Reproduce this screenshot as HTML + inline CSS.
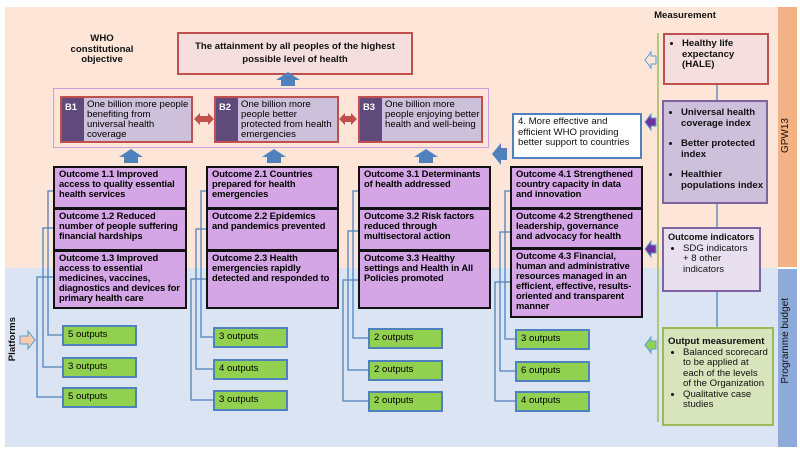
<!DOCTYPE html>
<html><head><style>
body{margin:0;width:800px;height:453px;background:#fff;position:relative;overflow:hidden;font-family:"Liberation Sans",sans-serif;}
div{position:absolute;box-sizing:border-box;}
.t{font-size:9.6px;line-height:10.5px;color:#111;}
.b{font-weight:bold;}
.oc{background:#d5a6e6;border:2px solid #111;padding:1px 4px;font-weight:bold;font-size:9.4px;line-height:10px;letter-spacing:-0.1px;}
.go{background:#92d050;border:2px solid #4f81bd;font-size:9.6px;padding:2px 4px;width:75px;height:21px;}
.bx{background:#ccc0da;border:2px solid #c0504d;}
.bl{left:0;top:0;width:22px;height:100%;background:#604a7b;color:#fff;font-weight:bold;font-size:9.4px;padding:3px 3px;}
.bt{left:25px;top:2px;font-size:9.6px;line-height:10px;}
ul{margin:0;padding-left:15px;}
</style></head><body>
<div style="left:5px;top:7px;width:773px;height:261px;background:#fde6d8"></div>
<div style="left:5px;top:268px;width:773px;height:179px;background:#dae4f3"></div>
<div style="left:778px;top:7px;width:19px;height:260px;background:#f4b183"></div>
<div style="left:778px;top:269px;width:19px;height:178px;background:#8eaadb"></div>
<div class="t" style="left:781px;top:118px;writing-mode:vertical-rl;transform:rotate(180deg);font-size:10px">GPW13</div>
<div class="t" style="left:781px;top:298px;writing-mode:vertical-rl;transform:rotate(180deg);font-size:10px">Programme budget</div>

<div class="t b" style="left:58px;top:34px;width:88px;text-align:center">WHO constitutional objective</div>
<div class="t b" style="left:630px;top:11px;width:110px;text-align:center">Measurement</div>
<div class="t b" style="left:177px;top:32px;width:236px;height:43px;background:#f5dede;border:2px solid #c0504d;text-align:center;padding-top:6px;line-height:13px">The attainment by all peoples of the highest possible level of health</div>

<div style="left:53px;top:88px;width:436px;height:60px;border:1px solid #c9a0e0"></div>
<div class="bx" style="left:60px;top:96px;width:133px;height:47px"><div class="bl">B1</div><div class="bt">One billion more people benefiting from universal health coverage</div></div>
<div class="bx" style="left:214px;top:96px;width:125px;height:47px"><div class="bl">B2</div><div class="bt">One billion more people better protected from health emergencies</div></div>
<div class="bx" style="left:358px;top:96px;width:125px;height:47px"><div class="bl">B3</div><div class="bt">One billion more people enjoying better health and well-being</div></div>

<div class="t" style="left:512px;top:113px;width:130px;height:46px;background:#fff;border:2px solid #4f81bd;padding:2px 4px;font-size:9.6px">4. More effective and efficient WHO providing better support to countries</div>

<div class="oc" style="left:53px;top:166px;width:134px;height:43px">Outcome 1.1 Improved access to quality essential health services</div>
<div class="oc" style="left:53px;top:208px;width:134px;height:43px">Outcome 1.2 Reduced number of people suffering financial hardships</div>
<div class="oc" style="left:53px;top:250px;width:134px;height:59px">Outcome 1.3 Improved access to essential medicines, vaccines, diagnostics and devices for primary health care</div>
<div class="oc" style="left:206px;top:166px;width:133px;height:43px">Outcome 2.1 Countries prepared for health emergencies</div>
<div class="oc" style="left:206px;top:208px;width:133px;height:43px">Outcome 2.2 Epidemics and pandemics prevented</div>
<div class="oc" style="left:206px;top:250px;width:133px;height:59px">Outcome 2.3 Health emergencies rapidly detected and responded to</div>
<div class="oc" style="left:358px;top:166px;width:133px;height:43px">Outcome 3.1 Determinants of health addressed</div>
<div class="oc" style="left:358px;top:208px;width:133px;height:43px">Outcome 3.2 Risk factors reduced through multisectoral action</div>
<div class="oc" style="left:358px;top:250px;width:133px;height:59px">Outcome 3.3 Healthy settings and Health in All Policies promoted</div>
<div class="oc" style="left:510px;top:166px;width:133px;height:43px">Outcome 4.1 Strengthened country capacity in data and innovation</div>
<div class="oc" style="left:510px;top:208px;width:133px;height:41px">Outcome 4.2 Strengthened leadership, governance and advocacy for health</div>
<div class="oc" style="left:510px;top:248px;width:133px;height:70px">Outcome 4.3 Financial, human and administrative resources managed in an efficient, effective, results-oriented and transparent manner</div>

<svg style="position:absolute;left:0;top:0" width="800" height="453">
<g fill="none" stroke="#4f81bd" stroke-width="1.3">
<path d="M53 191H48V335H62M53 228H43V367H62M53 277H37V397H62"/>
<path d="M206 191H201V337H213M206 229H196V369H213M206 279H191V400H213"/>
<path d="M358 191H353V338H368M358 231H348V370H368M358 280H343V401H368"/>
<path d="M510 191H505V339H515M510 232H500V371H515M510 282H495V401H515"/>
<path d="M717 84V100M717 203V227M717 291V327"/>
</g>
<line x1="658" y1="33" x2="658" y2="422" stroke="#9bbb59" stroke-width="1.5"/>
<g fill="#4f81bd">
<path d="M124 163h14v-6h5l-12-8-12 8h5z"/>
<path d="M267 163h14v-6h5l-12-8-12 8h5z"/>
<path d="M419 163h14v-6h5l-12-8-12 8h5z"/>
<path d="M281 86h14v-6h5l-12-8-12 8h5z"/>
<path d="M507 148v12h-6v5l-9-11 9-11v5z"/>
</g>
<g fill="#c0504d">
<path d="M194 119l6-6v3h8v-3l6 6-6 6v-3h-8v3z"/>
<path d="M339 119l6-6v3h6v-3l6 6-6 6v-3h-6v3z"/>
</g>
<path d="M656 56h-5v-4l-6 8 6 8v-4h5z" fill="#fde6d8" stroke="#5b9bd5"/>
<path d="M656 118h-5v-4l-6 8 6 8v-4h5z" fill="#7030a0" stroke="#5b9bd5"/>
<path d="M656 245h-5v-4l-6 8 6 8v-4h5z" fill="#7030a0" stroke="#5b9bd5"/>
<path d="M656 341h-5v-4l-6 8 6 8v-4h5z" fill="#92d050" stroke="#5b9bd5"/>
<path d="M20 336h8v-5l7 9-7 9v-5h-8z" fill="#f8cbad" stroke="#5b9bd5"/>
</svg>
<div class="t b" style="left:8px;top:317px;writing-mode:vertical-rl;transform:rotate(180deg)">Platforms</div>

<div class="go" style="left:62px;top:325px">5 outputs</div>
<div class="go" style="left:62px;top:357px">3 outputs</div>
<div class="go" style="left:62px;top:387px">5 outputs</div>
<div class="go" style="left:213px;top:327px">3 outputs</div>
<div class="go" style="left:213px;top:359px">4 outputs</div>
<div class="go" style="left:213px;top:390px">3 outputs</div>
<div class="go" style="left:368px;top:328px">2 outputs</div>
<div class="go" style="left:368px;top:360px">2 outputs</div>
<div class="go" style="left:368px;top:391px">2 outputs</div>
<div class="go" style="left:515px;top:329px">3 outputs</div>
<div class="go" style="left:515px;top:361px">6 outputs</div>
<div class="go" style="left:515px;top:391px">4 outputs</div>

<div class="t b" style="left:663px;top:33px;width:106px;height:52px;background:#f5dede;border:2px solid #c0504d;padding:4px 2px"><ul><li>Healthy life expectancy (HALE)</li></ul></div>
<div class="t b" style="left:662px;top:100px;width:106px;height:104px;background:#ccc0da;border:2px solid #8064a2;padding:6px 2px"><ul><li style="margin-bottom:10px">Universal health coverage index</li><li style="margin-bottom:10px">Better protected index</li><li>Healthier populations index</li></ul></div>
<div class="t" style="left:662px;top:227px;width:99px;height:65px;background:#e8e0ee;border:2px solid #8064a2;padding:3px 4px"><b style="white-space:nowrap;font-size:9.2px">Outcome indicators</b><ul><li>SDG indicators + 8 other indicators</li></ul></div>
<div class="t" style="left:662px;top:327px;width:112px;height:99px;background:#d8e4bc;border:2px solid #9bbb59;padding:8px 4px"><b>Output measurement</b><ul><li>Balanced scorecard to be applied at each of the levels of the Organization</li><li>Qualitative case studies</li></ul></div>
</body></html>
